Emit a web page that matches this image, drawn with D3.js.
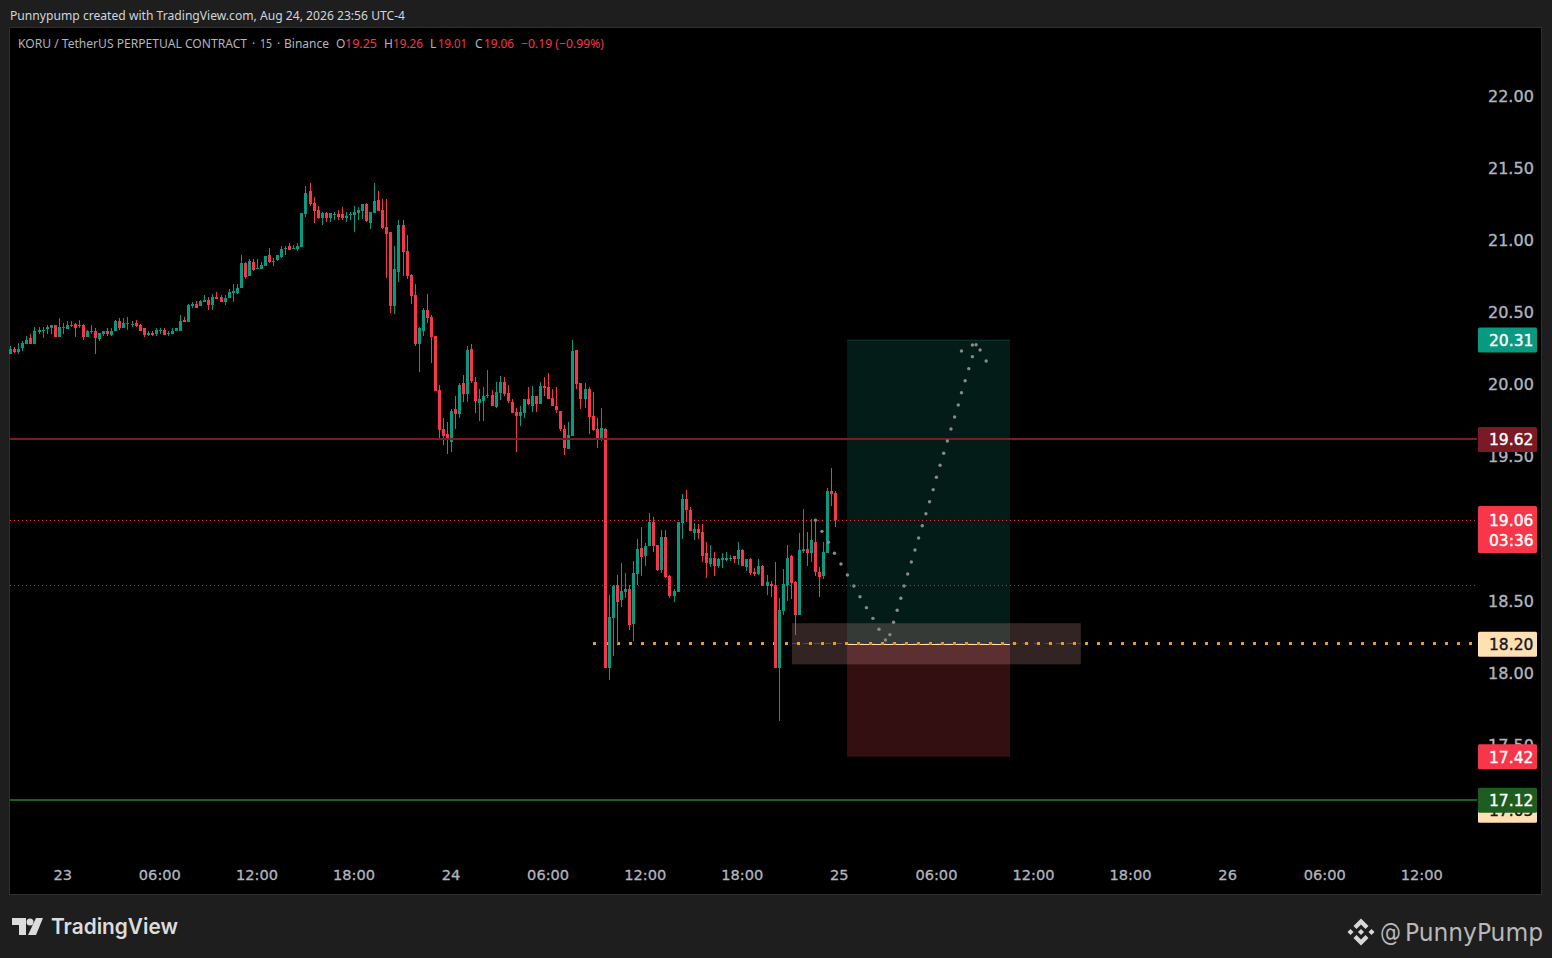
<!DOCTYPE html>
<html><head><meta charset="utf-8">
<script src="https://cdn.jsdelivr.net/npm/d3@7/dist/d3.min.js"></script>
<style>html,body{margin:0;padding:0;background:#1e1e1e;overflow:hidden}svg{display:block}</style>
</head><body><div id="c"></div>
<script>
const opens=[20.211,20.246,20.225,20.253,20.281,20.322,20.281,20.362,20.371,20.385,20.392,20.412,20.329,20.392,20.385,20.406,20.419,20.406,20.412,20.329,20.364,20.371,20.315,20.350,20.371,20.343,20.371,20.440,20.392,20.419,20.412,20.426,20.412,20.392,20.343,20.357,20.350,20.371,20.378,20.350,20.350,20.371,20.371,20.447,20.433,20.544,20.558,20.544,20.572,20.586,20.551,20.607,20.607,20.572,20.600,20.634,20.634,20.669,20.842,20.752,20.849,20.801,20.801,20.822,20.898,20.849,20.863,20.884,20.939,20.960,20.939,20.939,
20.953,21.182,21.341,21.258,21.210,21.154,21.189,21.154,21.175,21.182,21.182,21.154,21.175,21.175,21.189,21.203,21.251,21.120,21.189,21.279,21.210,21.092,21.057,20.544,20.780,21.106,20.925,20.759,20.620,20.281,20.371,20.516,20.468,20.336,19.962,19.691,19.657,19.601,19.830,19.795,20.010,19.934,20.246,20.017,19.872,19.886,19.920,19.927,19.844,19.941,20.017,19.941,19.879,19.809,19.782,19.802,19.899,19.851,19.920,19.865,19.990,19.983,19.906,19.851,19.816,19.691,19.553,19.643,20.239,20.010,19.899,19.969,19.782,19.691,19.622,19.691,
18.035,18.381,18.610,18.506,18.562,18.582,18.340,18.686,18.867,18.811,18.880,19.047,18.887,18.714,18.943,18.672,18.534,18.562,19.040,19.206,19.130,18.970,18.998,18.977,18.832,18.756,18.797,18.742,18.783,18.783,18.790,18.811,18.790,18.853,18.735,18.790,18.700,18.686,18.742,18.603,18.617,18.610,18.035,18.430,18.610,18.811,18.631,18.402,18.846,18.860,18.832,18.908,18.700,18.672,18.832,19.262,19.25];
const highs=[20.267,20.258,20.288,20.299,20.334,20.350,20.396,20.396,20.396,20.412,20.412,20.412,20.461,20.424,20.440,20.440,20.424,20.447,20.419,20.378,20.412,20.392,20.357,20.371,20.392,20.392,20.447,20.461,20.461,20.468,20.440,20.447,20.419,20.392,20.371,20.371,20.392,20.392,20.392,20.371,20.392,20.392,20.482,20.468,20.558,20.572,20.579,20.586,20.620,20.607,20.627,20.641,20.620,20.620,20.662,20.697,20.697,20.898,20.849,20.870,20.870,20.870,20.849,20.891,20.946,20.877,20.898,20.960,20.960,20.981,20.967,20.981,
21.189,21.376,21.397,21.300,21.237,21.196,21.196,21.189,21.196,21.210,21.230,21.196,21.196,21.237,21.230,21.251,21.258,21.196,21.397,21.341,21.286,21.286,21.057,20.960,21.140,21.140,21.036,20.766,20.697,20.399,20.530,20.627,20.482,20.336,19.996,19.768,19.740,19.830,19.920,20.010,20.066,20.267,20.281,20.052,19.969,19.983,20.101,19.962,20.017,20.059,20.052,19.996,19.899,19.837,19.851,19.899,19.983,19.990,19.920,20.017,20.052,20.080,19.969,19.983,19.816,19.719,19.740,20.308,20.239,20.010,20.010,19.983,19.948,19.768,19.837,19.698,
18.541,18.610,18.679,18.762,18.693,18.610,18.776,18.929,19.012,18.901,19.109,19.081,18.887,18.991,18.991,18.679,18.582,19.047,19.241,19.269,19.151,19.040,19.033,19.033,18.908,18.887,18.839,18.797,18.832,18.839,18.818,18.811,18.908,18.860,18.790,18.797,18.728,18.790,18.749,18.679,18.638,18.769,18.520,18.721,18.887,18.818,18.638,18.970,19.137,18.977,19.068,19.061,18.735,18.908,19.283,19.421,19.26];
const lows=[20.211,20.216,20.211,20.232,20.281,20.281,20.281,20.350,20.322,20.350,20.350,20.329,20.329,20.350,20.385,20.399,20.329,20.392,20.308,20.329,20.350,20.211,20.302,20.336,20.336,20.336,20.371,20.378,20.392,20.378,20.399,20.399,20.371,20.329,20.336,20.336,20.336,20.350,20.343,20.336,20.350,20.371,20.371,20.433,20.433,20.530,20.530,20.544,20.572,20.516,20.516,20.593,20.572,20.551,20.600,20.572,20.627,20.669,20.731,20.752,20.787,20.801,20.801,20.822,20.842,20.822,20.856,20.877,20.898,20.932,20.939,20.925,
20.953,21.161,21.237,21.120,21.147,21.106,21.126,21.126,21.140,21.140,21.140,21.126,21.140,21.057,21.140,21.147,21.126,21.078,21.189,21.203,21.078,20.738,20.496,20.489,20.711,20.752,20.731,20.558,20.267,20.087,20.336,20.426,20.149,19.955,19.622,19.581,19.518,19.532,19.691,19.768,19.879,19.879,20.010,19.802,19.747,19.747,19.906,19.851,19.837,19.892,19.920,19.872,19.802,19.532,19.712,19.768,19.858,19.809,19.809,19.865,19.920,19.899,19.851,19.802,19.678,19.511,19.553,19.643,19.969,19.830,19.837,19.657,19.678,19.560,19.608,18.035,
17.951,18.118,18.201,18.457,18.520,18.298,18.222,18.610,18.672,18.742,18.880,18.839,18.707,18.693,18.659,18.520,18.492,18.562,18.929,19.047,18.984,18.922,18.929,18.769,18.659,18.735,18.672,18.728,18.728,18.776,18.776,18.762,18.749,18.742,18.707,18.679,18.672,18.679,18.603,18.541,18.527,18.035,17.667,18.402,18.499,18.513,18.263,18.402,18.832,18.742,18.769,18.672,18.527,18.652,18.832,19.158,19.01];
const closes=[20.246,20.225,20.246,20.288,20.306,20.281,20.371,20.378,20.378,20.399,20.412,20.329,20.399,20.399,20.412,20.412,20.392,20.412,20.329,20.371,20.371,20.322,20.357,20.371,20.350,20.371,20.440,20.392,20.426,20.426,20.419,20.406,20.371,20.343,20.357,20.343,20.378,20.378,20.343,20.357,20.371,20.392,20.440,20.433,20.551,20.558,20.530,20.579,20.586,20.551,20.607,20.593,20.572,20.600,20.641,20.648,20.669,20.842,20.745,20.856,20.794,20.808,20.828,20.891,20.849,20.856,20.898,20.939,20.946,20.932,20.946,20.960,
21.189,21.328,21.251,21.203,21.154,21.189,21.154,21.189,21.182,21.161,21.154,21.168,21.182,21.196,21.210,21.251,21.133,21.196,21.272,21.203,21.085,21.043,20.544,20.801,21.106,20.919,20.752,20.614,20.281,20.392,20.516,20.461,20.329,19.955,19.685,19.643,19.615,19.816,19.795,19.996,19.934,20.239,20.024,19.886,19.899,19.920,19.927,19.851,19.948,20.017,19.934,19.886,19.802,19.782,19.809,19.899,19.865,19.920,19.865,19.990,19.976,19.899,19.851,19.823,19.691,19.560,19.650,20.232,20.003,19.899,19.969,19.775,19.685,19.629,19.698,18.035,
18.388,18.603,18.492,18.568,18.582,18.333,18.693,18.860,18.804,18.880,19.047,18.880,18.714,18.943,18.665,18.534,18.568,19.047,19.206,19.130,18.984,18.998,18.970,18.811,18.762,18.797,18.742,18.790,18.797,18.797,18.797,18.790,18.853,18.742,18.790,18.693,18.686,18.742,18.603,18.631,18.603,18.035,18.437,18.617,18.797,18.624,18.402,18.853,18.860,18.832,18.922,18.700,18.665,18.839,19.262,19.241,19.06];

const priceTicks=[22,21.5,21,20.5,20,19.5,18.5,18,17.5];
const timeTickBars=[13,37,61,85,109,133,157,181,205,229,253,277,301,325,349];
const timeTickLabels=["23","06:00","12:00","18:00","24","06:00","12:00","18:00","25","06:00","12:00","18:00","26","06:00","12:00"];

const pathBars=[199.1,200.7,202.3,203.8,205.4,207.0,208.6,210.1,211.7,213.3,214.8,216.4,217.5,218.4,219.3,220.2,221.0,221.9,222.8,223.7,224.6,225.5,226.4,227.3,228.2,229.0,229.9,230.8,231.7,232.6,233.5,234.4,235.2,236.1,237.0,237.9,238.8,235.2,237.9,239.8,241.3];
const pathPrices=[19.059,18.982,18.906,18.830,18.756,18.679,18.603,18.529,18.453,18.379,18.303,18.229,18.266,18.352,18.435,18.518,18.603,18.686,18.770,18.853,18.936,19.021,19.104,19.187,19.271,19.357,19.440,19.523,19.608,19.692,19.775,19.858,19.943,20.026,20.110,20.193,20.276,20.232,20.274,20.239,20.163];

const levelSolidRed=19.62, levelClose=19.06, levelGrey=18.61, levelEntry=18.20, levelGreen=17.12;
const target=20.31, stop=17.42, hiddenLevel=17.05;
const posStartBar=206.9, posEndBar=247.2;
const zoneStartBar=193.3, zoneEndBar=264.7, zoneTop=18.345, zoneBottom=18.06;

const UP="#089981",DOWN="#f7364a",AX="#b2b5be";
const W=1552,H=958;
const svg=d3.select("#c").append("svg").attr("width",W).attr("height",H);
const x=d3.scaleLinear().domain([0,204]).range([10.2,835.3]);
const y=d3.scaleLinear().domain([22,17]).range([96,817.25]);
const px=i=>Math.round(x(i));

svg.append("rect").attr("width",W).attr("height",H).attr("fill","#1e1e1e");
svg.append("rect").attr("x",9.5).attr("y",27.5).attr("width",1532).attr("height",867).attr("fill","#000").attr("stroke","#2f2f2f");

const T=(s,xx,yy,o={})=>svg.append("text").attr("x",xx).attr("y",yy).text(s)
 .attr("font-family",o.f||"'Noto Sans',sans-serif").attr("font-size",o.s||12)
 .attr("font-weight",o.w||400).attr("fill",o.c||AX).attr("text-anchor",o.a||"start")
 .call(t=>{if(o.l)t.attr("textLength",o.l).attr("lengthAdjust","spacingAndGlyphs");if(o.st)t.attr("stroke",o.c||AX).attr("stroke-width",o.st)});

T("Punnypump created with TradingView.com, Aug 24, 2026 23:56 UTC-4",10,20,{c:"#d1d4dc",l:395});
T("KORU / TetherUS PERPETUAL CONTRACT",18,48,{l:229});
T("·",252,48);T("15",260,48,{l:12});T("·",277,48);T("Binance",284,48,{l:45});
[["O",336,"19.25",345,32],["H",384,"19.26",393,30],["L",430,"19.01",438,29],["C",475,"19.06",484,30]].forEach(d=>{
 T(d[0],d[1],48);T(d[2],d[3],48,{c:DOWN,l:d[4]});
});
T("−0.19 (−0.99%)",521,48,{c:DOWN,l:83});

// position boxes
const g=svg.append("g");
g.append("rect").attr("x",x(posStartBar)).attr("width",x(posEndBar)-x(posStartBar)).attr("y",y(target)).attr("height",y(levelEntry)-y(target)).attr("fill","#041c17");
g.append("line").attr("x1",x(posStartBar)).attr("x2",x(posEndBar)).attr("y1",y(target)+.5).attr("y2",y(target)+.5).attr("stroke","#0a3a30");
g.append("rect").attr("x",x(posStartBar)).attr("width",x(posEndBar)-x(posStartBar)).attr("y",y(levelEntry)).attr("height",y(stop)-y(levelEntry)).attr("fill","#340f12");

// translucent zone
svg.append("rect").attr("x",x(zoneStartBar)).attr("width",x(zoneEndBar)-x(zoneStartBar)).attr("y",y(zoneTop)).attr("height",y(zoneBottom)-y(zoneTop)).attr("fill","rgba(255,180,180,0.2)");

// horizontal levels
const hl=(v,a,b,c,w,d,crisp=true)=>{const odd=Math.round(w)%2===1,yy=odd?Math.round(y(v)-.5)+.5:Math.round(y(v));
 return svg.append("line").attr("x1",a).attr("x2",b).attr("y1",yy).attr("y2",yy).attr("stroke",c).attr("stroke-width",w).attr("stroke-dasharray",d||null).attr("shape-rendering",crisp?"crispEdges":"auto")};
hl(levelGrey,10,1477,"#5a5a5a",1,"1 3");
hl(levelClose,10,1477,"#f23645",1,"1 3");
hl(levelEntry,x(posStartBar),x(posEndBar),"#ffe0b2",1);
svg.append("line").attr("x1",x(zoneStartBar)).attr("x2",x(zoneEndBar)).attr("y1",643.5).attr("y2",643.5).attr("stroke","#6f2f8f").attr("stroke-width",1).attr("stroke-dasharray","6 5");
svg.append("line").attr("x1",593).attr("x2",1477).attr("y1",643.5).attr("y2",643.5).attr("stroke","#e89c25").attr("stroke-width",3).attr("stroke-dasharray","3 9");

// candles
const cd=d3.range(opens.length).map(i=>({i,o:opens[i],h:highs[i],l:lows[i],c:closes[i]}));
const cg=svg.append("g").attr("shape-rendering","crispEdges");
const col=d=>d.c>=d.o?UP:DOWN;
cg.selectAll(".w").data(cd).join("rect").attr("x",d=>px(d.i)).attr("width",1).attr("y",d=>y(d.h)).attr("height",d=>Math.max(1,y(d.l)-y(d.h))).attr("fill",col);
cg.selectAll(".b").data(cd).join("rect").attr("x",d=>px(d.i)-1).attr("width",3).attr("y",d=>Math.min(y(d.o),y(d.c))).attr("height",d=>Math.max(1,Math.abs(y(d.o)-y(d.c)))).attr("fill",col);

hl(levelSolidRed,10,1477,"#7a1a22",2);
hl(levelGreen,10,1477,"#1e5c20",2);

// forecast path dots
svg.append("g").selectAll("circle").data(pathBars).join("circle").attr("cx",d=>x(d)).attr("cy",(d,i)=>y(pathPrices[i])).attr("r",1.7).attr("fill","#8a8a8a");

// axes
const yAxis=d3.axisRight(y).tickValues(priceTicks).tickFormat(d3.format(".2f")).tickSize(0).tickPadding(0);
const ya=svg.append("g").attr("transform","translate(1488,0)").call(yAxis);
ya.select(".domain").remove();
ya.selectAll("text").attr("font-family","'DejaVu Sans',sans-serif").attr("font-size",16).attr("fill",AX).attr("stroke",AX).attr("stroke-width",.35).attr("dy","0.32em");

const xAxis=d3.axisBottom(x).tickValues(timeTickBars).tickFormat((d,i)=>timeTickLabels[i]).tickSize(0).tickPadding(0);
const xa=svg.append("g").attr("transform","translate(-0.5,870)").call(xAxis);
xa.select(".domain").remove();
xa.selectAll("text").attr("font-family","'DejaVu Sans',sans-serif").attr("font-size",14.6).attr("fill",AX).attr("stroke",AX).attr("stroke-width",.3).attr("dy","0.71em");

// right labels
function lab(v,bg,fg,sub){
 const yy=y(v), h=sub?47:25, top=sub?yy-14:yy-12.3;
 svg.append("rect").attr("x",1478).attr("y",top).attr("width",59).attr("height",h).attr("rx",1.5).attr("fill",bg);
 T(d3.format(".2f")(v),1489,yy+6,{f:"'DejaVu Sans',sans-serif",s:15.5,c:fg,st:.4});
 if(sub)T(sub,1489,yy+26,{f:"'DejaVu Sans',sans-serif",s:15.5,c:fg,st:.4});
}
lab(target,UP,"#fff");
lab(levelSolidRed,"#7a1a22","#fff");
lab(levelClose,DOWN,"#fff","03:36");
lab(levelEntry,"#ffe0b2","#131722");
lab(stop,DOWN,"#fff");
lab(hiddenLevel,"#ffe0b2","#131722");
lab(levelGreen,"#1e5c20","#fff");

// footer marks
const logo=svg.append("g").attr("fill","#dcdcdc");
logo.append("path").attr("d","M12 918H26V935H19V925H12Z");
logo.append("circle").attr("cx",30).attr("cy",922).attr("r",3.5);
logo.append("path").attr("d","M36 918H43L36 935H28Z");
T("TradingView",51,934,{f:"Inter,sans-serif",s:21.5,w:600,c:"#dcdcdc",l:127});

const bn=svg.append("g").attr("fill","#d8d8d8").attr("transform","translate(1361,932)");
bn.append("path").attr("d","M0 -13.5L7.5 -6L4.5 -3L0 -7.5L-4.5 -3L-7.5 -6Z");
bn.append("path").attr("d","M0 13.5L7.5 6L4.5 3L0 7.5L-4.5 3L-7.5 6Z");
bn.append("path").attr("d","M0 -3L3 0L0 3L-3 0Z");
bn.append("path").attr("d","M-10.5 -3L-7.5 0L-10.5 3L-13.5 0Z");
bn.append("path").attr("d","M10.5 -3L13.5 0L10.5 3L7.5 0Z");
T("@",1380,941,{f:"'DejaVu Sans',sans-serif",s:24,c:"#b8b8b8",l:21});
T("PunnyPump",1405,941,{f:"'DejaVu Sans',sans-serif",s:24,c:"#b8b8b8",l:138});
</script></body></html>
